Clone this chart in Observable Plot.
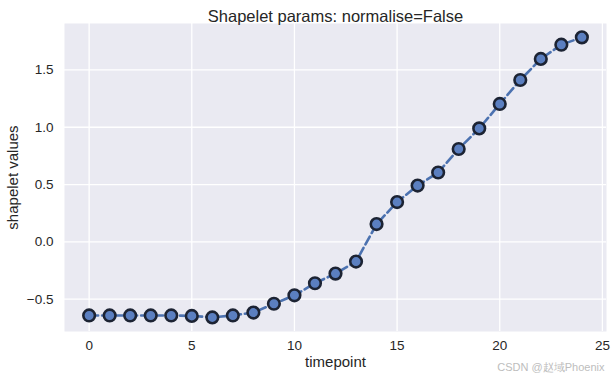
<!DOCTYPE html>
<html>
<head>
<meta charset="utf-8">
<script src="https://cdn.jsdelivr.net/npm/d3@7"></script>
<script src="https://cdn.jsdelivr.net/npm/@observablehq/plot@0.6"></script>
<style>
  html, body { margin: 0; padding: 0; background: white; }
</style>
</head>
<body>
<div id="chart"></div>
<script>
const timepoints = [0, 1, 2, 3, 4, 5, 6, 7, 8, 9, 10, 11, 12, 13, 14, 15, 16, 17, 18, 19, 20, 21, 22, 23, 24];
const shapeletValues = [-0.642, -0.642, -0.642, -0.642, -0.642, -0.646, -0.659, -0.642, -0.617, -0.54,
  -0.466, -0.361, -0.277, -0.172, 0.155, 0.347, 0.491, 0.605, 0.81, 0.99,
  1.203, 1.412, 1.596, 1.72, 1.784];
const xTicks = [0, 5, 10, 15, 20, 25];
const yTicks = [-0.5, 0, 0.5, 1.0, 1.5];
const titleText = "Shapelet params: normalise=False";
const xLabel = "timepoint";
const yLabel = "shapelet values";
const watermark = "CSDN @赵域Phoenix";

const data = timepoints.map((t, i) => ({t, v: shapeletValues[i]}));
const minus = s => s.replace("-", "\u2212");

const chart = Plot.plot({
  width: 611,
  height: 381,
  marginTop: 23,
  marginBottom: 50,
  marginLeft: 64,
  marginRight: 5,
  style: {fontFamily: "'Liberation Sans', Arial, sans-serif", fontSize: "13px", color: "#262626", background: "white", overflow: "visible"},
  x: {domain: [-1.2, 25.2]},
  y: {domain: [-0.782, 1.905]},
  marks: [
    Plot.frame({fill: "#EAEAF2", stroke: null}),
    Plot.gridX(xTicks, {stroke: "white", strokeOpacity: 1, strokeWidth: 1.3}),
    Plot.gridY(yTicks, {stroke: "white", strokeOpacity: 1, strokeWidth: 1.3}),
    Plot.axisX(xTicks, {tickSize: 0, tickPadding: 9, fontSize: 13.5, label: null, tickFormat: d => minus(String(d))}),
    Plot.axisY(yTicks, {tickSize: 0, tickPadding: 11, fontSize: 13.5, label: null, tickFormat: d => minus(d.toFixed(1))}),
    Plot.line(data, {x: "t", y: "v", stroke: "#4C72B0", strokeWidth: 2.6, strokeDasharray: "9,4"}),
    Plot.dot(data, {x: "t", y: "v", r: 5.8, fill: "#5B7FC0", stroke: "#1C2333", strokeWidth: 2.6}),
    Plot.text([titleText], {frameAnchor: "top", dy: -13, text: d => d, fontSize: 16.5, fill: "#262626"}),
    Plot.text([xLabel], {frameAnchor: "bottom", dy: 35, text: d => d, fontSize: 15, fill: "#262626"}),
    Plot.text([yLabel], {frameAnchor: "left", textAnchor: "middle", dx: -51, rotate: -90, text: d => d, fontSize: 15, fill: "#262626"}),
    Plot.text([watermark], {frameAnchor: "bottom-right", textAnchor: "end", dx: -2, dy: 39, text: d => d, fontSize: 11, fill: "#BDBDBD"})
  ]
});
document.getElementById("chart").appendChild(chart);
</script>
</body>
</html>
